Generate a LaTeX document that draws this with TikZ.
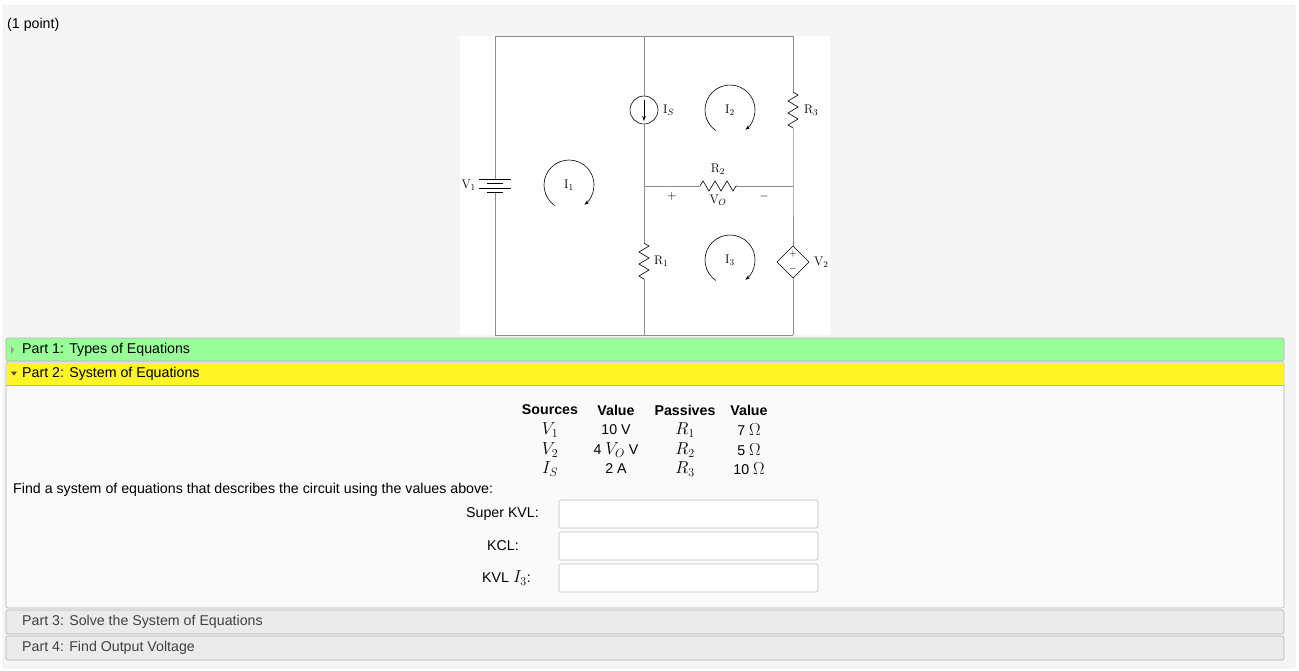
\documentclass[tikz,border=0pt]{standalone}
\usepackage{fontspec}
\setsansfont{Liberation Sans}
\usetikzlibrary{decorations.pathmorphing,calc,arrows.meta}
\begin{document}
\begin{tikzpicture}[x=1pt,y=-1pt,
  wire/.style={draw=black!45,line width=0.8pt},
  comp/.style={draw=black,line width=0.6pt},
  res/.style={comp,decorate,decoration={zigzag,segment length=12pt,amplitude=5pt}},
  lbl/.style={font=\fontsize{12.5}{14}\selectfont\rmfamily,inner sep=1pt},
  ui/.style={font=\fontsize{14.2}{16}\selectfont\sffamily,inner sep=0pt},
  mth/.style={font=\fontsize{18}{20}\selectfont,inner sep=0pt},
  panel/.style={draw=black!30,line width=0.6pt,rounded corners=2pt},
  tb/.style={draw=black!25,fill=white,rounded corners=2pt,line width=0.6pt},
  loop/.style={comp,-{Stealth[length=5pt,width=3.5pt]}}]
\useasboundingbox (0,0) rectangle (1299,670);
\fill[white] (0,0) rectangle (1299,670);
\draw[fill=black!4,draw=black!12,rounded corners=3pt] (3,5) rectangle (1295,668);
\node[ui,anchor=west] (pt) at (7,25) {(1 point)};
% circuit
\fill[white] (460,36) rectangle (830,335);
\coordinate (tl) at (495,36); \coordinate (tm) at (644,36); \coordinate (tr) at (793,36);
\coordinate (bl) at (495,335); \coordinate (bm) at (644,335); \coordinate (br) at (793,335);
\coordinate (ml) at (644,186); \coordinate (mr) at (793,186);
\draw[wire] (tl)--(tr) (bl)--(br);
% left branch with battery
\draw[wire] (tl)--(495,179) (495,193)--(bl);
\draw[comp] (479,179)--(511,179) (487,183.5)--(503,183.5) (479,188)--(511,188) (487,192.5)--(503,192.5);
\node[lbl,anchor=east] (v1) at (477,185) {V$_1$};
% middle branch
\node[comp,circle,minimum size=28pt,inner sep=0pt] (is) at (644,110) {};
\draw[comp,-{Stealth[length=5pt,width=3.5pt]}] (644,100)--(644,121);
\draw[wire] (tm)--(is.north) (is.south)--(ml);
\node[lbl,anchor=west] (isl) at (662,110) {I$_S$};
\draw[wire] (ml)--(644,243);
\draw[res] (644,243)--(644,280);
\draw[wire] (644,280)--(bm);
\node[lbl,anchor=west] (r1) at (653,261) {R$_1$};
% R2
\draw[wire] (ml)--(700,186);
\draw[res] (700,186)--(737,186);
\draw[wire] (737,186)--(mr);
\node[lbl] (r2) at (718,169) {R$_2$};
\node[lbl] (vo) at (718,200) {V$_O$};
\node[lbl] (pl) at (672,196) {+};
\node[lbl] (mi) at (764,196) {$-$};
% right branch
\draw[wire] (tr)--(793,92);
\draw[res] (793,92)--(793,128);
\draw[wire] (793,128)--(mr)--(793,246);
\node[lbl,anchor=west] (r3) at (803,110) {R$_3$};
\draw[comp,fill=white] (793,246)--(809,262)--(793,278)--(777,262)--cycle;
\node[lbl,font=\fontsize{10}{11}\selectfont] (vp) at (793,254) {+};
\node[lbl,font=\fontsize{10}{11}\selectfont] (vm) at (793,269) {$-$};
\draw[wire] (793,278)--(br);
\node[lbl,anchor=west] (v2) at (813,262) {V$_2$};
% loops
\foreach \n/\x/\y in {1/569/185,2/730/110,3/730/260}{
  \node[lbl] (i\n) at (\x,\y) {I$_\n$};
  \draw[loop] ([shift={(125:25)}]i\n.center) arc[start angle=125,end angle=412,radius=25];
}
% panels
\draw[panel,fill=green!40] (6,338) rectangle (1284,361);
\node[ui,anchor=west] (p1) at (22,350) {Part 1: Types of Equations};
\fill[black!40] (11,346)--(14,350)--(11,354)--cycle;
\draw[panel,fill=black!2] (6,362) rectangle (1284,608);
\fill[yellow!85!white] (6.5,362.5) rectangle (1283.5,385);
\draw[black!30,line width=0.6pt] (6,385)--(1284,385);
\node[ui,anchor=west] (p2) at (22,374) {Part 2: System of Equations};
\fill[black!70] (11,371.5)--(17,371.5)--(14,375.5)--cycle;
% table
\node[ui,font=\fontsize{14.2}{16}\selectfont\sffamily\bfseries] at (550,410) {Sources};
\node[ui,font=\fontsize{14.2}{16}\selectfont\sffamily\bfseries] at (616,410) {Value};
\node[ui,font=\fontsize{14.2}{16}\selectfont\sffamily\bfseries] at (685,410) {Passives};
\node[ui,font=\fontsize{14.2}{16}\selectfont\sffamily\bfseries] at (749,410) {Value};
\node[mth] at (550,430) {$V_1$}; \node[ui] at (616,430) {10 V}; \node[mth] at (685,430) {$R_1$}; \node[ui] at (749,430) {7 {\fontsize{18}{20}\selectfont$\Omega$}};
\node[mth] at (550,450) {$V_2$}; \node[ui] at (616,450) {4 {\fontsize{18}{20}\selectfont$V_O$} V}; \node[mth] at (685,450) {$R_2$}; \node[ui] at (749,450) {5 {\fontsize{18}{20}\selectfont$\Omega$}};
\node[mth] at (550,469) {$I_S$}; \node[ui] at (616,469) {2 A}; \node[mth] at (685,469) {$R_3$}; \node[ui] at (749,469) {10 {\fontsize{18}{20}\selectfont$\Omega$}};
\node[ui,anchor=west] (fs) at (13,490) {Find a system of equations that describes the circuit using the values above:};
\node[ui,anchor=east] (l1) at (539,514) {Super KVL:};
\node[ui,anchor=east] (l2) at (519,546) {KCL:};
\node[ui,anchor=east] (l3) at (531,578) {KVL {\fontsize{18}{20}\selectfont$I_3$}:};
\draw[tb] (559,500) rectangle (818,528);
\draw[tb] (559,532) rectangle (818,560);
\draw[tb] (559,564) rectangle (818,592);
% collapsed
\draw[panel,fill=black!8] (6,610) rectangle (1284,634);
\node[ui,anchor=west,text=black!75] (p3) at (22,622) {Part 3: Solve the System of Equations};
\draw[panel,fill=black!8] (6,636) rectangle (1284,660);
\node[ui,anchor=west,text=black!75] (p4) at (22,648) {Part 4: Find Output Voltage};
\end{tikzpicture}
\end{document}
